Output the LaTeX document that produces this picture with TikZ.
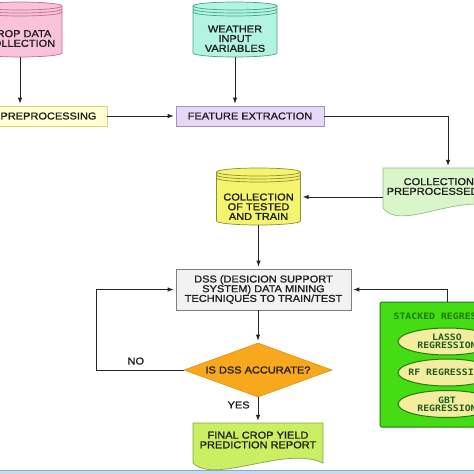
\documentclass[tikz,border=0pt]{standalone}
\usepackage{fontspec}
\setmainfont{Liberation Sans}[FakeStretch=1.1,FakeBold=1.2]
\newfontfamily\regfont{DejaVu Sans Mono}[FakeStretch=1.12]
\usetikzlibrary{shapes.geometric,arrows.meta}
\definecolor{pinkfill}{HTML}{F8C2D9}
\definecolor{pinkline}{HTML}{C86A8E}
\definecolor{mintfill}{HTML}{B2F4E0}
\definecolor{mintline}{HTML}{45A38D}
\definecolor{ylwfill}{HTML}{F4F46E}
\definecolor{ylwline}{HTML}{8E8E35}
\definecolor{prefill}{HTML}{FFFFD2}
\definecolor{preline}{HTML}{DCD47A}
\definecolor{feafill}{HTML}{E7D8F7}
\definecolor{fealine}{HTML}{A38FC4}
\definecolor{docfill}{HTML}{D9F5C9}
\definecolor{docline}{HTML}{8FBF80}
\definecolor{dssfill}{HTML}{F2F2F2}
\definecolor{dssline}{HTML}{7F7F7F}
\definecolor{accfill}{HTML}{F8A81C}
\definecolor{accline}{HTML}{E39512}
\definecolor{repfill}{HTML}{CBEF62}
\definecolor{repline}{HTML}{84A642}
\definecolor{stkfill}{HTML}{44DC12}
\definecolor{stkline}{HTML}{237A0A}
\definecolor{ellfill}{HTML}{F4EDA0}
\definecolor{elltext}{HTML}{1F5E1F}
\definecolor{bandfill}{HTML}{C7D9EE}
\definecolor{bandline}{HTML}{8EA8C8}
% drum with the two extra rims below the lid
\newcommand{\dbdrum}[4]{%
\draw[#1]({#2-42},#3)--({#2-42},#4)arc[start angle=180,end angle=360,x radius=42,y radius=4]--({#2+42},#3)arc[start angle=0,end angle=180,x radius=42,y radius=4]--cycle;
\foreach \dy in {0,3,6}{\draw[#1,fill=none]({#2-42},{#3-\dy})arc[start angle=180,end angle=360,x radius=42,y radius=4];}
}
\tikzset{
txt/.style={align=center,font=\fontsize{10}{9.7}\selectfont,text=black!88,inner sep=0pt},
dbtext/.style={txt,minimum width=84},
flowbox/.style={txt,rectangle,line width=0.7pt},
arr/.style={draw=black!85,line width=0.8pt,-{Latex[length=6pt,width=4.5pt]},shorten >=2pt},
lbl/.style={txt,inner sep=2pt},
regell/.style={ellipse,draw=stkline,fill=ellfill,line width=1pt,minimum width=98,minimum height=27,inner sep=0pt},
regtext/.style={align=center,font=\regfont\bfseries\fontsize{8.8}{8}\selectfont,text=elltext,inner sep=0pt}
}
\begin{document}
\begin{tikzpicture}[x=1pt,y=1pt]
\useasboundingbox (0,0) rectangle (474,-474);
%band
\fill[bandfill](0,-470) rectangle (474,-474);
\draw[bandline,line width=0.8pt](0,-470)--(474,-470);
%drums
\dbdrum{draw=pinkline,fill=pinkfill,line width=0.7pt}{20}{-6}{-53}
\dbdrum{draw=mintline,fill=mintfill,line width=0.7pt}{235}{-6}{-53}
\dbdrum{draw=ylwline,fill=ylwfill,line width=0.7pt}{258.5}{-172}{-221}
\node[dbtext,minimum height=37] (crop) at (20,-38.5) {CROP DATA\\COLLECTION};
\node[dbtext,minimum height=36.6] (wth) at (235,-38.7) {WEATHER\\INPUT\\VARIABLES};
\node[dbtext,minimum height=36.6] (tt) at (258.5,-206.7) {COLLECTION\\OF TESTED\\AND TRAIN};
%documents
\draw[draw=docline,fill=docfill,line width=0.7pt](383,-168)--(383,-208) .. controls (400,-232) and (460,-192) .. (497,-208)--(497,-168)--cycle;
\draw[draw=repline,fill=repfill,line width=0.7pt](193,-423)--(193,-463) .. controls (215,-485) and (285,-445) .. (323,-463)--(323,-423)--cycle;
\node[txt,minimum width=130,minimum height=37] (prep) at (448,-186.5) {COLLECTION\phantom{~OF}\\PREPROCESSED\phantom{~DATA}};
\node[txt,minimum width=130,minimum height=34] (rep) at (258,-440) {FINAL CROP YIELD\\PREDICTION REPORT};
%boxes
\node[flowbox,draw=preline,fill=prefill,minimum width=117,minimum height=20] (pre) at (48.5,-116) {PREPROCESSING};
\node[flowbox,draw=fealine,fill=feafill,minimum width=148,minimum height=20] (fea) at (250,-116) {FEATURE EXTRACTION};
\node[flowbox,draw=dssline,fill=dssfill,minimum width=175,minimum height=41] (dss) at (263.5,-289.5) {DSS (DESICION SUPPORT\\SYSTEM) DATA MINING\\TECHNIQUES TO TRAIN/TEST};
\node[txt,diamond,aspect=2.74,draw=accline,fill=accfill,line width=0.7pt,minimum width=148,minimum height=54] (acc) at (258,-370) {IS DSS ACCURATE?};
%stacked
\node[rectangle,draw=stkline,fill=stkfill,line width=1pt,rounded corners=1.5pt,minimum width=134,minimum height=125] (stk) at (447,-364.5) {};
\node[regtext,text=stkline] (stkttl) at (447,-316) {STACKED REGRESSION};
\node[regell] (las) at (447,-341.5) {};
\node[regell] (rf) at (447,-372.5) {};
\node[regell] (gbt) at (447,-404) {};
\node[regtext] (lastxt) at (las) {LASSO\\REGRESSION};
\node[regtext] (rftxt) at (rf) {RF REGRESSION};
\node[regtext] (gbttxt) at (gbt) {GBT\\REGRESSION};
%flow
\draw[arr](crop.south)--(crop.south |- pre.north);
\draw[arr](wth.south)--(wth.south |- fea.north);
\draw[arr](pre.east)--(fea.west);
\draw[arr](fea.east)-|(prep.north);
\draw[arr]([yshift=-10.5]prep.west)--([yshift=-10.5]prep.west -| tt.east);
\draw[arr](tt.south)--(tt.south |- dss.north);
\draw[arr](dss.south -| acc.north)--(acc.north);
\draw[arr](acc.south)--node[lbl,left=6pt,pos=0.3] (yes) {YES} (rep.north);
\draw[arr](acc.west)--++(-87,0) node[lbl,pos=0.55,above=3pt] (no) {NO} |- (dss.west);
\draw[arr](stk.north)|-(dss.east);
\end{tikzpicture}
\end{document}
